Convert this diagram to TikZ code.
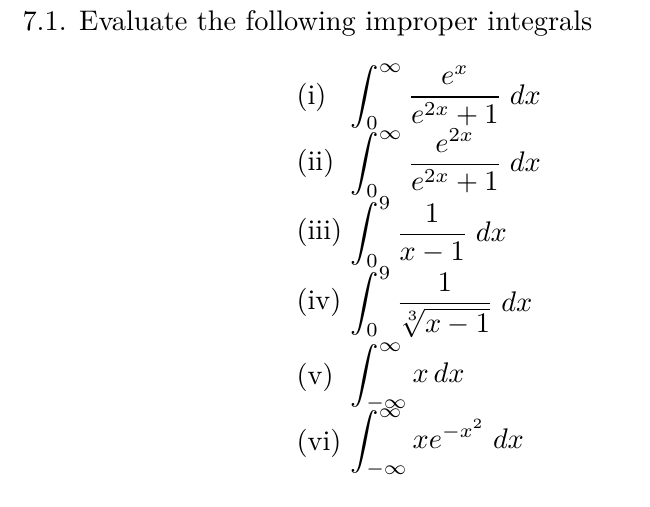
\documentclass[tikz,border=0pt]{standalone}
\usepackage{amsmath}
\begin{document}
\begin{tikzpicture}[x=0.353pt,y=-0.353pt,
  lab/.style={anchor=west,inner sep=0pt},
  expr/.style={anchor=west,inner sep=0pt}]
\useasboundingbox (0,0) rectangle (650,506);
\node[anchor=base west,inner sep=0pt] (title) at (22,30) {7.1. Evaluate the following improper integrals};
\node[lab] (l1) at (296,97) {(i)};
\node[expr] (e1) at (350,97) {$\displaystyle\int_0^\infty \frac{e^x}{e^{2x}+1}\;dx$};
\node[lab] (l2) at (296,163) {(ii)};
\node[expr] (e2) at (350,163) {$\displaystyle\int_0^\infty \frac{e^{2x}}{e^{2x}+1}\;dx$};
\node[lab] (l3) at (296,232) {(iii)};
\node[expr] (e3) at (350,232) {$\displaystyle\int_0^9 \frac{1}{x-1}\;dx$};
\node[lab] (l4) at (296,302) {(iv)};
\node[expr] (e4) at (350,302) {$\displaystyle\int_0^9 \frac{1}{\sqrt[3]{x-1}}\;dx$};
\node[lab] (l5) at (296,377) {(v)};
\node[expr] (e5) at (350,377) {$\displaystyle\int_{-\infty}^\infty x\,dx$};
\node[lab] (l6) at (296,443) {(vi)};
\node[expr] (e6) at (350,443) {$\displaystyle\int_{-\infty}^\infty xe^{-x^2}\;dx$};
\end{tikzpicture}
\end{document}
